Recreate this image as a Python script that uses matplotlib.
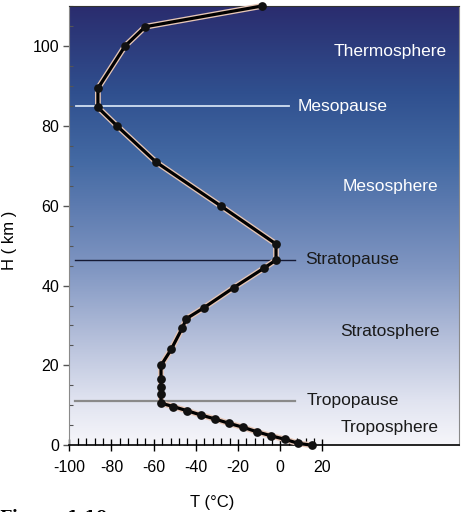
import numpy as np
import matplotlib
matplotlib.use("Agg")
import matplotlib.pyplot as plt
from matplotlib.colors import LinearSegmentedColormap
import matplotlib.patheffects as pe
from matplotlib.ticker import MultipleLocator, FixedLocator

plt.rcParams['font.family'] = ['Liberation Sans', 'DejaVu Sans']
plt.rcParams['axes.unicode_minus'] = False

# Data: temperature profile
height_km = [0, 0.5, 1.5, 2.4, 3.4, 4.5, 5.5, 6.6, 7.6, 8.7, 9.7, 10.55,
             12.8, 14.7, 16.7, 20.0, 24.0, 29.4, 31.7, 34.4, 39.5, 44.4,
             46.4, 50.4, 59.9, 70.9, 80.0, 84.6, 89.4, 100.0, 104.8, 110.0]
temp_c = [15.2, 8.5, 2.2, -4.5, -11.2, -17.5, -24.3, -31.0, -37.7, -44.4, -50.7, -56.5,
          -56.5, -56.5, -56.5, -56.5, -51.7, -46.4, -44.5, -36.3, -22.0, -7.6,
          -2.0, -2.0, -28.1, -58.8, -77.4, -86.4, -86.4, -73.5, -64.0, -8.7]

# Boundary lines (pauses)
pause_names = ["Mesopause", "Stratopause", "Tropopause"]
pause_heights = [84.9, 46.5, 11.2]
pause_x0 = [-96.8, -97.3, -97.3]
pause_x1 = [4.1, 7.0, 7.0]

# Layer labels
layer_names = ["Thermosphere", "Mesosphere", "Stratosphere", "Troposphere"]
layer_heights = [98.6, 64.9, 28.4, 4.4]

xticks = [-100, -80, -60, -40, -20, 0, 20]
yticks = [0, 20, 40, 60, 80, 100]

fig = plt.figure(figsize=(4.65, 5.12), dpi=100)
ax = fig.add_axes([69/465, 1-445.3/512, 390/465, (445.3-6)/512])
ax.set_xlim(-100.1, 84.7)
ax.set_ylim(0, 110)

# background gradient
cmap = LinearSegmentedColormap.from_list("sky", [
    (0.0, "#f6f6fa"), (0.1, "#e0e3f0"), (0.25, "#b2bdd9"), (0.4, "#8096c2"),
    (0.55, "#5b7aaf"), (0.65, "#4369a3"), (0.8, "#30508f"), (1.0, "#2a2c6e")])
grad = np.linspace(0, 1, 256).reshape(-1, 1)
ax.imshow(grad, aspect='auto', cmap=cmap, origin='lower',
          extent=[-100.1, 84.7, 0, 110], zorder=0)

# pause lines
pause_colors = ["#d2e0f2", "#151a35", "#8a8a8a"]
pause_lw = [1.3, 1.0, 1.6]
for h, x0, x1, c, lw in zip(pause_heights, pause_x0, pause_x1, pause_colors, pause_lw):
    ax.plot([x0, x1], [h, h], color=c, lw=lw, zorder=2)

# profile line with light halo, then plain black markers
ax.plot(temp_c, height_km, color='black', lw=2.3, zorder=3, solid_joinstyle='round',
        clip_on=False,
        path_effects=[pe.Stroke(linewidth=4.2, foreground='#e6c6b6'), pe.Normal()])
ax.plot(temp_c, height_km, linestyle='none', marker='o', ms=6.3,
        color='#111111', markeredgewidth=0, zorder=4, clip_on=False)

# texts
text_color_pause = ["white", "#1a1a1a", "#1a1a1a"]
pause_text_x = [8.0, 11.7, 12.3]
for name, h, x, c in zip(pause_names, pause_heights, pause_text_x, text_color_pause):
    ax.text(x, h, name, color=c, fontsize=12.5, ha='left', va='center', zorder=5)
layer_colors = ["white", "white", "#1a1a1a", "#1a1a1a"]
for name, h, c in zip(layer_names, layer_heights, layer_colors):
    ax.text(52, h, name, color=c, fontsize=12.5, ha='center', va='center', zorder=5)

# axes styling
for s in ['left', 'right']:
    ax.spines[s].set_color('#8a8a8a')
ax.spines['top'].set_color('#333333')
ax.spines['top'].set_linewidth(0.8)
ax.spines['bottom'].set_color('black')
ax.spines['bottom'].set_linewidth(1.2)

ax.xaxis.set_major_locator(FixedLocator(xticks))
ax.xaxis.set_minor_locator(FixedLocator(list(range(-100, 21, 4))))
ax.yaxis.set_major_locator(FixedLocator(yticks))
ax.yaxis.set_minor_locator(MultipleLocator(5))
ax.tick_params(axis='x', which='major', direction='inout', length=9, width=1, labelsize=11.5, pad=6)
ax.tick_params(axis='x', which='minor', direction='in', length=5, width=0.9)
ax.tick_params(axis='y', which='major', direction='out', length=4, width=1, labelsize=11.5, pad=3,
               color='#555555')
ax.tick_params(axis='y', which='minor', direction='in', length=3, width=0.8, color='#555555')
ax.tick_params(axis='x', colors='black')

ax.set_xlabel("T (°C)", fontsize=12)
ax.xaxis.set_label_coords((212-69)/390, -(503-445.3)/439.3)
ax.xaxis.label.set_va('center')
ax.set_ylabel("H ( km )", fontsize=12)
ax.yaxis.set_label_coords(-(69-10)/390, (445.3-240)/439.3)
ax.yaxis.label.set_va('center')

fig.text(0.0, -0.019, "Figure 1.10", fontsize=12, fontweight='bold',
         family='DejaVu Serif', ha='left', va='baseline')

fig.savefig("out.png", dpi=100)
